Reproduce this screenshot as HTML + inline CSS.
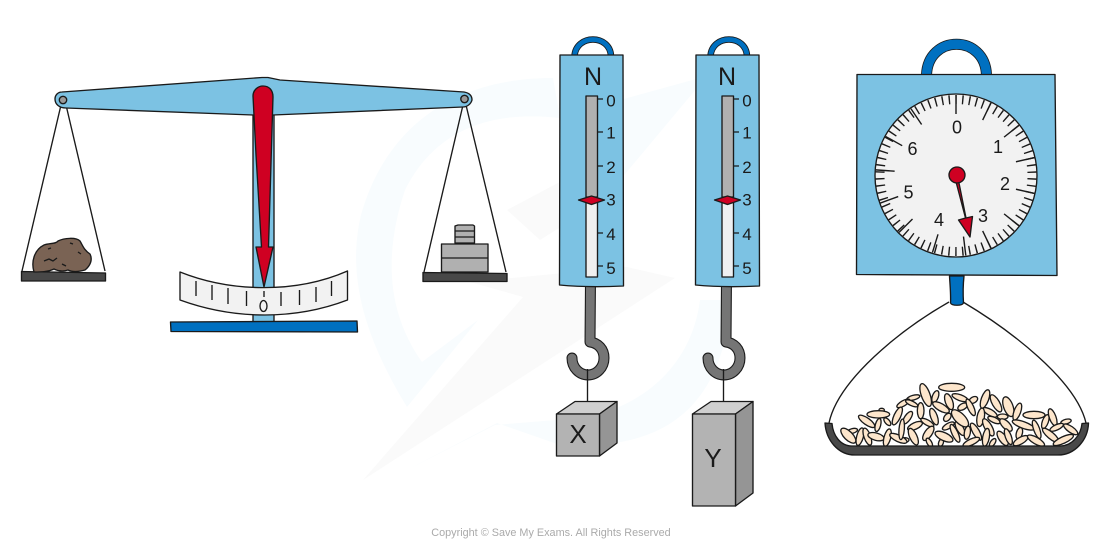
<!DOCTYPE html>
<html><head><meta charset="utf-8"><style>
html,body{margin:0;padding:0;background:#fff}
svg{display:block}
text{font-family:"Liberation Sans","DejaVu Sans",sans-serif;fill:#1a1a1a}
[stroke-width="1"]{stroke-width:1.35}
</style></head><body>
<svg xmlns="http://www.w3.org/2000/svg" width="1100" height="558" viewBox="0 0 1100 558">
<!-- watermark -->
<g fill="#f8fcfe">
<path d="M553 78 C450 78 385 130 361 215 C348 270 360 330 407 407 L478 320 L422 362 C385 310 385 250 405 190 C435 130 490 110 560 118 Z"/>
<path d="M403 472 L497 423 L560 445 C650 450 705 420 725 340 L725 300 L700 300 C690 380 620 420 556 420 L495 425 Z"/>
<path d="M707 76 L620 100 L620 180 Z"/>
</g>
<g fill="#fafafa">
<path d="M363 480 L523 297 L470 282 L627 267 L675 278 Z"/>
<path d="M507 210 L620 150 L620 190 L540 240 Z"/>
</g>
<g stroke="#1a1a1a" stroke-linejoin="round">
<!-- balance -->
<path d="M61 105 L22 271 M66 105 L105 271 M463 105 L424 272 M466 105 L506 272" fill="none" stroke-width="1"/>
<path d="M253 114 H274 V323 H253 Z" fill="#7cc2e3" stroke-width="1"/>
<path d="M62 92 L262 77.5 L268 77.5 L280 80 L464 92 C470 93 472 96 472 100 C471 104 467 107 463 107 L273 115 L253 115 L66 108 C59 108 55 104 55 99 C55 95 58 92 62 92 Z" fill="#7cc2e3" stroke-width="1"/>
<circle cx="63" cy="100" r="3.7" fill="#999" stroke-width="1"/>
<circle cx="464.500" cy="99" r="3.700" fill="#999" stroke-width="1"/>
<path d="M180 272 C230 292 295 294 347.500 271 L347.500 300 C295 320 235 320 180 300 Z" fill="#f2f2f2" stroke-width="1"/>
<path d="M196 281V296M212 285V300M228 288V304M246.500 291V306M264 291V297M281 292V306M299.500 290V305M316 287V302M331.500 281V296" fill="none" stroke-width="1"/>
<ellipse cx="263.500" cy="306" rx="3.500" ry="5.500" fill="none" stroke-width="1"/>
<path d="M253 96 C253 90 258 86 263 86 C269 86 273 90 273 97 L272 130 L268.500 247 L273 247 L264 287 L256 247 L261.500 247 L256 155 Z" fill="#cf0022" stroke-width="1"/>
<path d="M170.500 322 L357 321 L357.500 332 L171 331.500 Z" fill="#0070c0" stroke-width="1"/>
<path d="M21.500 271.500 L105.500 273 V281 H21.500 Z" fill="#484848" stroke-width="1"/>
<path d="M423 272.500 L507 273.500 V281.500 H423 Z" fill="#484848" stroke-width="1"/>
<path d="M34 272 C31 262 34 250 44 245 C50 243 56 244 58 241 C64 238 76 237 80 241 C83 246 84 250 90 254 C93 260 90 266 85 270 C78 272 72 272 68 270 C62 272 58 271 54 269 C48 272 40 272 34 272 Z" fill="#7a6354" stroke-width="1"/>
<path d="M44 261 L49 259 L53 261 L57 258 M48 249 L51 248 M70 243 L73 244 M78 252 L81 254 M62 264 L66 266" fill="none" stroke-width="1"/>
<path d="M441.500 272 V244 H488 V272 Z" fill="#b0b0b0" stroke-width="1"/>
<path d="M441.500 258 H488" fill="none" stroke-width="1"/>
<path d="M455 243 V226 L458 225 H473 L474.500 226 V243 Z" fill="#b0b0b0" stroke-width="1"/>
<path d="M455 231 H474 M455 237 H474" fill="none" stroke-width="1"/>
</g>
<!-- meter X -->
<g stroke="#1a1a1a" stroke-linejoin="round">
<path d="M574.500 56 C576 34 610 34 611 56" fill="none" stroke="#1a1a1a" stroke-width="6.500"/>
<path d="M574.500 56 C576 34 610 34 611 56" fill="none" stroke="#0070c0" stroke-width="4.800"/>
<path d="M590.500 280 L590 342 C598 343 604 349 604 358 A16 17 0 0 1 572 358" fill="none" stroke="#1a1a1a" stroke-width="11" stroke-linecap="round"/>
<path d="M590.500 280 L590 342 C598 343 604 349 604 358 A16 17 0 0 1 572 358" fill="none" stroke="#757575" stroke-width="8.800" stroke-linecap="round"/>
<path d="M560 55 L623 55 L623.500 286 C602 287 580 287 559.500 285 Z" fill="#7cc2e3" stroke-width="1"/>
<path d="M586 96 H597.500 V197 H586 Z" fill="#b0b0b0" stroke-width="1"/>
<path d="M586 200 H597.500 V277 H586 Z" fill="#efefef" stroke-width="1"/>
<path d="M578.500 200 L591.500 196 L604.500 200 L591.500 204.500 Z" fill="#cf0022" stroke-width="1"/>
<path d="M597.500 99H603M598 132H603M598 166H603M598 233H603M598 266H603" fill="none" stroke-width="1"/>
<path d="M587.500 369 V407" fill="none" stroke-width="1"/>
<path d="M556.500 414 L575 401.500 L617 401.500 L599.500 414 Z" fill="#cfcfcf" stroke-width="1"/>
<path d="M599.500 414 L617 401.500 V443 L599.500 456 Z" fill="#959595" stroke-width="1"/>
<rect x="556.500" y="414" width="43" height="42" fill="#b3b3b3" stroke-width="1"/>
</g>
<!-- meter Y -->
<g stroke="#1a1a1a" stroke-linejoin="round" transform="translate(136 0)">
<path d="M574.500 56 C576 34 610 34 611 56" fill="none" stroke="#1a1a1a" stroke-width="6.500"/>
<path d="M574.500 56 C576 34 610 34 611 56" fill="none" stroke="#0070c0" stroke-width="4.800"/>
<path d="M590.500 280 L590 342 C598 343 604 349 604 358 A16 17 0 0 1 572 358" fill="none" stroke="#1a1a1a" stroke-width="11" stroke-linecap="round"/>
<path d="M590.500 280 L590 342 C598 343 604 349 604 358 A16 17 0 0 1 572 358" fill="none" stroke="#757575" stroke-width="8.800" stroke-linecap="round"/>
<path d="M560 55 L623 55 L623.500 286 C602 287 580 287 559.500 285 Z" fill="#7cc2e3" stroke-width="1"/>
<path d="M586 96 H597.500 V197 H586 Z" fill="#b0b0b0" stroke-width="1"/>
<path d="M586 200 H597.500 V277 H586 Z" fill="#eef0f2" stroke-width="1"/>
<path d="M578.500 200 L591.500 196 L604.500 200 L591.500 204.500 Z" fill="#cf0022" stroke-width="1"/>
<path d="M597.500 99H603M598 132H603M598 166H603M598 233H603M598 266H603" fill="none" stroke-width="1"/>
<path d="M587.500 369 V407" fill="none" stroke-width="1"/>
<path d="M556.500 414 L575 401.500 L617 401.500 L599.500 414 Z" fill="#cfcfcf" stroke-width="1"/>
<path d="M599.500 414 L617 401.500 V493 L599.500 506 Z" fill="#959595" stroke-width="1"/>
<rect x="556.500" y="414" width="43" height="92" fill="#b3b3b3" stroke-width="1"/>
</g>
<g text-anchor="middle">
<text x="593" y="85" font-size="25">N</text>
<text x="727" y="85" font-size="25">N</text>
<text x="578" y="443" font-size="26">X</text>
<text x="713" y="467" font-size="26">Y</text>
</g>
<g font-size="17" text-anchor="middle">
<text x="611" y="106.500">0</text><text x="611" y="138.500">1</text><text x="611" y="173">2</text><text x="611" y="205.500">3</text><text x="611" y="240">4</text><text x="611" y="274">5</text>
<text x="747" y="106.500">0</text><text x="747" y="138.500">1</text><text x="747" y="173">2</text><text x="747" y="205.500">3</text><text x="747" y="240">4</text><text x="747" y="274">5</text>
</g>
<!-- dial scale -->
<g stroke="#1a1a1a" stroke-linejoin="round">
<path d="M926.500 75 C928 34 985 34 986.500 75" fill="none" stroke="#1a1a1a" stroke-width="11"/>
<path d="M926.500 75 C928 34 985 34 986.500 75" fill="none" stroke="#0070c0" stroke-width="9.400"/>
<path d="M857 74.500 L1055 74.500 L1057 275.500 L856.500 274.500 Z" fill="#7cc2e3" stroke-width="1"/>
<path d="M949.500 276 L964 276 C963 285 963 295 963.500 303 C962 306 952 306 950.500 303 C951 295 950 285 949.500 276 Z" fill="#0070c0" stroke-width="1"/>
<path d="M949 302 C900 330 838 380 829 423" fill="none" stroke-width="1"/>
<path d="M963 302 C1010 330 1076 380 1086 423" fill="none" stroke-width="1"/>
<ellipse cx="956" cy="175.500" rx="81" ry="81.500" fill="#f2f2f2" stroke-width="1"/>
<circle cx="956" cy="175.500" r="76" fill="none" stroke-width="9" stroke-dasharray="1.400 5.421" stroke-dashoffset="0.700" transform="rotate(-90 956 175.500)"/>
<g stroke-width="1.400">
<line x1="956" y1="95" x2="956" y2="114"/>
<line x1="956" y1="95" x2="956" y2="114" transform="rotate(25.700 956 175.500)"/>
<line x1="956" y1="95" x2="956" y2="114" transform="rotate(51.400 956 175.500)"/>
<line x1="956" y1="95" x2="956" y2="114" transform="rotate(77.100 956 175.500)"/>
<line x1="956" y1="95" x2="956" y2="114" transform="rotate(102.900 956 175.500)"/>
<line x1="956" y1="95" x2="956" y2="114" transform="rotate(128.600 956 175.500)"/>
<line x1="956" y1="95" x2="956" y2="114" transform="rotate(154.300 956 175.500)"/>
<line x1="956" y1="95" x2="956" y2="114" transform="rotate(173 956 175.500)"/>
<line x1="956" y1="95" x2="956" y2="114" transform="rotate(197 956 175.500)"/>
<line x1="956" y1="95" x2="956" y2="114" transform="rotate(225 956 175.500)"/>
<line x1="956" y1="95" x2="956" y2="114" transform="rotate(250 956 175.500)"/>
<line x1="956" y1="95" x2="956" y2="114" transform="rotate(274 956 175.500)"/>
<line x1="956" y1="95" x2="956" y2="114" transform="rotate(299 956 175.500)"/>
<line x1="956" y1="95" x2="956" y2="114" transform="rotate(326 956 175.500)"/>
</g>
<path d="M958 178 L955 178 L965.500 218 L958.500 220 L970 237 L972.500 216.500 L966 218 Z" fill="#cf0022" stroke-width="1"/>
<circle cx="957" cy="175" r="8" fill="#cf0022" stroke-width="1"/>
</g>
<g font-size="18" text-anchor="middle">
<text x="957" y="133.500">0</text><text x="998" y="153">1</text><text x="1005" y="190">2</text><text x="983" y="222">3</text><text x="939" y="226">4</text><text x="908.500" y="198.500">5</text><text x="912.500" y="155">6</text>
</g>
<!-- rice -->
<g transform="translate(810 290) scale(.33333)" fill="#fde6cc" stroke="#1a1a1a" stroke-width="4">
<ellipse cx="425" cy="292" rx="39" ry="12"/>
<ellipse cx="310" cy="323" rx="20" ry="7" transform="rotate(-15 310 323)"/>
<ellipse cx="280" cy="340" rx="22" ry="8" transform="rotate(-30 280 340)"/>
<ellipse cx="305" cy="340" rx="20" ry="7" transform="rotate(25 305 340)"/>
<ellipse cx="347" cy="315" rx="36" ry="13" transform="rotate(70 347 315)"/>
<ellipse cx="376" cy="320" rx="19" ry="9" transform="rotate(-70 376 320)"/>
<ellipse cx="450" cy="323" rx="25" ry="9" transform="rotate(20 450 323)"/>
<ellipse cx="490" cy="330" rx="14" ry="9" transform="rotate(-30 490 330)"/>
<ellipse cx="417" cy="335" rx="25" ry="11" transform="rotate(70 417 335)"/>
<ellipse cx="458" cy="350" rx="16" ry="9" transform="rotate(-30 458 350)"/>
<ellipse cx="482" cy="352" rx="27" ry="9" transform="rotate(65 482 352)"/>
<ellipse cx="525" cy="327" rx="29" ry="11" transform="rotate(-70 525 327)"/>
<ellipse cx="558" cy="340" rx="29" ry="11" transform="rotate(60 558 340)"/>
<ellipse cx="595" cy="350" rx="31" ry="14" transform="rotate(70 595 350)"/>
<ellipse cx="622" cy="365" rx="27" ry="10" transform="rotate(-70 622 365)"/>
<ellipse cx="393" cy="352" rx="28" ry="11" transform="rotate(30 393 352)"/>
<ellipse cx="332" cy="362" rx="24" ry="10" transform="rotate(90 332 362)"/>
<ellipse cx="215" cy="360" rx="8" ry="5"/>
<ellipse cx="204" cy="405" rx="20" ry="8" transform="rotate(-75 204 405)"/>
<ellipse cx="205" cy="373" rx="34" ry="11"/>
<ellipse cx="170" cy="394" rx="29" ry="10" transform="rotate(35 170 394)"/>
<ellipse cx="232" cy="395" rx="14" ry="7" transform="rotate(50 232 395)"/>
<ellipse cx="262" cy="378" rx="29" ry="10" transform="rotate(-65 262 378)"/>
<ellipse cx="293" cy="383" rx="22" ry="9" transform="rotate(-55 293 383)"/>
<ellipse cx="372" cy="380" rx="26" ry="10" transform="rotate(70 372 380)"/>
<ellipse cx="412" cy="382" rx="14" ry="9" transform="rotate(-50 412 382)"/>
<ellipse cx="352" cy="398" rx="22" ry="8" transform="rotate(30 352 398)"/>
<ellipse cx="415" cy="408" rx="20" ry="8" transform="rotate(-30 415 408)"/>
<ellipse cx="315" cy="408" rx="24" ry="10" transform="rotate(-25 315 408)"/>
<ellipse cx="450" cy="415" rx="24" ry="10" transform="rotate(60 450 415)"/>
<ellipse cx="450" cy="385" rx="33" ry="15" transform="rotate(45 450 385)"/>
<ellipse cx="540" cy="367" rx="24" ry="9" transform="rotate(30 540 367)"/>
<ellipse cx="512" cy="382" rx="28" ry="11" transform="rotate(-80 512 382)"/>
<ellipse cx="578" cy="380" rx="16" ry="8"/>
<ellipse cx="552" cy="390" rx="20" ry="8" transform="rotate(25 552 390)"/>
<ellipse cx="672" cy="375" rx="33" ry="11"/>
<ellipse cx="706" cy="395" rx="22" ry="9" transform="rotate(-70 706 395)"/>
<ellipse cx="728" cy="382" rx="27" ry="10" transform="rotate(70 728 382)"/>
<ellipse cx="768" cy="395" rx="16" ry="7" transform="rotate(-15 768 395)"/>
<ellipse cx="740" cy="412" rx="22" ry="8" transform="rotate(-25 740 412)"/>
<ellipse cx="782" cy="418" rx="25" ry="9" transform="rotate(35 782 418)"/>
<ellipse cx="127" cy="423" rx="16" ry="7" transform="rotate(-15 127 423)"/>
<ellipse cx="115" cy="437" rx="29" ry="13" transform="rotate(45 115 437)"/>
<ellipse cx="150" cy="440" rx="27" ry="10" transform="rotate(-75 150 440)"/>
<ellipse cx="172" cy="440" rx="27" ry="10" transform="rotate(70 172 440)"/>
<ellipse cx="198" cy="440" rx="25" ry="11" transform="rotate(15 198 440)"/>
<ellipse cx="232" cy="443" rx="27" ry="10" transform="rotate(-75 232 443)"/>
<ellipse cx="285" cy="450" rx="12" ry="7"/>
<ellipse cx="265" cy="445" rx="28" ry="10" transform="rotate(25 265 445)"/>
<ellipse cx="275" cy="418" rx="31" ry="8" transform="rotate(-85 275 418)"/>
<ellipse cx="310" cy="440" rx="27" ry="11" transform="rotate(65 310 440)"/>
<ellipse cx="355" cy="430" rx="25" ry="11" transform="rotate(-55 355 430)"/>
<ellipse cx="358" cy="458" rx="15" ry="7" transform="rotate(60 358 458)"/>
<ellipse cx="393" cy="458" rx="12" ry="7" transform="rotate(-70 393 458)"/>
<ellipse cx="402" cy="440" rx="29" ry="12" transform="rotate(25 402 440)"/>
<ellipse cx="435" cy="430" rx="29" ry="9" transform="rotate(65 435 430)"/>
<ellipse cx="472" cy="428" rx="20" ry="9" transform="rotate(-80 472 428)"/>
<ellipse cx="498" cy="425" rx="29" ry="10" transform="rotate(60 498 425)"/>
<ellipse cx="484" cy="456" rx="27" ry="9" transform="rotate(-25 484 456)"/>
<ellipse cx="535" cy="412" rx="29" ry="11" transform="rotate(60 535 412)"/>
<ellipse cx="528" cy="442" rx="27" ry="10" transform="rotate(-80 528 442)"/>
<ellipse cx="548" cy="458" rx="14" ry="7" transform="rotate(-55 548 458)"/>
<ellipse cx="588" cy="405" rx="24" ry="11" transform="rotate(45 588 405)"/>
<ellipse cx="578" cy="445" rx="25" ry="11" transform="rotate(55 578 445)"/>
<ellipse cx="595" cy="440" rx="25" ry="9" transform="rotate(70 595 440)"/>
<ellipse cx="628" cy="430" rx="18" ry="9" transform="rotate(-75 628 430)"/>
<ellipse cx="640" cy="405" rx="35" ry="10" transform="rotate(20 640 405)"/>
<ellipse cx="632" cy="452" rx="25" ry="10" transform="rotate(-30 632 452)"/>
<ellipse cx="680" cy="418" rx="29" ry="9" transform="rotate(70 680 418)"/>
<ellipse cx="678" cy="452" rx="29" ry="10" transform="rotate(30 678 452)"/>
<ellipse cx="722" cy="436" rx="31" ry="10" transform="rotate(40 722 436)"/>
<ellipse cx="760" cy="450" rx="33" ry="10" transform="rotate(-25 760 450)"/>
</g>
<path d="M825 423 L832 423.500 C833 435 840 446 852 446 L1060 446 C1072 446 1081 435 1082 423.500 L1088.500 423 C1088 440 1075 455 1058 455 L855 455 C838 455 826 440 825 423 Z" fill="#484848" stroke="#1a1a1a" stroke-width="1" stroke-linejoin="round"/>
<text x="551" y="536" text-anchor="middle" font-size="10.850" style="fill:#aaa">Copyright © Save My Exams. All Rights Reserved</text>
</svg>
</body></html>
